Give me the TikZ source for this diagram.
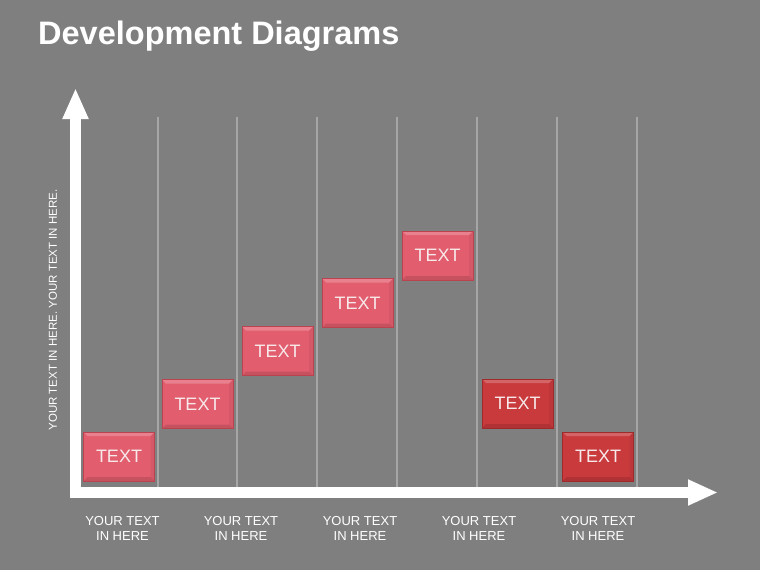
\documentclass[tikz,border=0pt]{standalone}
\usepackage{fontspec}
\setmainfont{Liberation Sans}
\usetikzlibrary{arrows.meta}
\definecolor{bgc}{HTML}{7F7F7F}
\definecolor{gridc}{HTML}{A6A6A6}
\definecolor{pinkc}{HTML}{E25E6E}
\definecolor{pinkd}{HTML}{B9434F}
\definecolor{redc}{HTML}{C93A3D}
\definecolor{redd}{HTML}{9E2A2C}
\definecolor{txtc}{HTML}{F7E9EA}
\begin{document}
\begin{tikzpicture}[x=1pt,y=-1pt,
    bevel/.style={path picture={
      \fill[white,opacity=.22] (path picture bounding box.north west) -- (path picture bounding box.north east)
        -- ([xshift=-4pt,yshift=-4pt]path picture bounding box.north east) -- ([xshift=4pt,yshift=-4pt]path picture bounding box.north west) -- cycle;
      \fill[black,opacity=.12] (path picture bounding box.south west) -- (path picture bounding box.south east)
        -- ([xshift=-4pt,yshift=4pt]path picture bounding box.south east) -- ([xshift=4pt,yshift=4pt]path picture bounding box.south west) -- cycle;
      \fill[black,opacity=.06] (path picture bounding box.north east) -- (path picture bounding box.south east)
        -- ([xshift=-4pt,yshift=4pt]path picture bounding box.south east) -- ([xshift=-4pt,yshift=-4pt]path picture bounding box.north east) -- cycle;}},
    pinkbox/.style={bevel,fill=pinkc,draw=pinkd,line width=.6pt,minimum width=71pt,minimum height=49pt,
      inner sep=0pt,text=txtc,font=\fontsize{18}{20}\selectfont},
    redbox/.style={pinkbox,fill=redc,draw=redd},
    lbl/.style={align=center,text=white,inner sep=0pt,font=\fontsize{13}{15}\selectfont},
    grid/.style={gridc,line width=1.1pt},
    axis/.style={white,line width=11pt,{Triangle[width=24pt,length=31pt]}-{Triangle[width=24pt,length=30pt]}}]
    \useasboundingbox (0,0) rectangle (760,570);
    \fill[bgc] (0,0) rectangle (760,570);
    % title
    \node (title) [anchor=base west,inner sep=0pt,text=white,font=\bfseries\fontsize{32.5}{36}\selectfont] at (38,44) {Development Diagrams};
    %
    \draw[grid] (158,117) -- (158,487);
    \draw[grid] (237,117) -- (237,487);
    \draw[grid] (317,117) -- (317,487);
    \draw[grid] (397,117) -- (397,487);
    \draw[grid] (477,117) -- (477,487);
    \draw[grid] (557,117) -- (557,487);
    \draw[grid] (637,117) -- (637,487);
    %
    \coordinate (ytip) at (75.5,88);
    \coordinate (xtip) at (718,492.5);
    \draw[axis,line join=miter] (ytip) |- (xtip);
    %
    \node (t1) [pinkbox] at (119,456.5) {TEXT};
    \node (t2) [pinkbox] at (197.5,404) {TEXT};
    \node (t3) [pinkbox] at (277.5,351) {TEXT};
    \node (t4) [pinkbox] at (357.5,303) {TEXT};
    \node (t5) [pinkbox] at (437.5,255.5) {TEXT};
    \node (t6) [redbox] at (517.5,403.5) {TEXT};
    \node (t7) [redbox] at (598,456.5) {TEXT};
    %
    \node (l1) [lbl] at (122.5,528.5) {YOUR TEXT\\IN HERE};
    \node (l2) [lbl] at (241,528.5) {YOUR TEXT\\IN HERE};
    \node (l3) [lbl] at (360,528.5) {YOUR TEXT\\IN HERE};
    \node (l4) [lbl] at (479,528.5) {YOUR TEXT\\IN HERE};
    \node (l5) [lbl] at (598,528.5) {YOUR TEXT\\IN HERE};
    %
    \node (ylab) [rotate=90,text=white,inner sep=0pt,font=\fontsize{11.5}{13}\selectfont] at (53,310) {YOUR TEXT IN HERE. YOUR TEXT IN HERE.};
\end{tikzpicture}
\end{document}
